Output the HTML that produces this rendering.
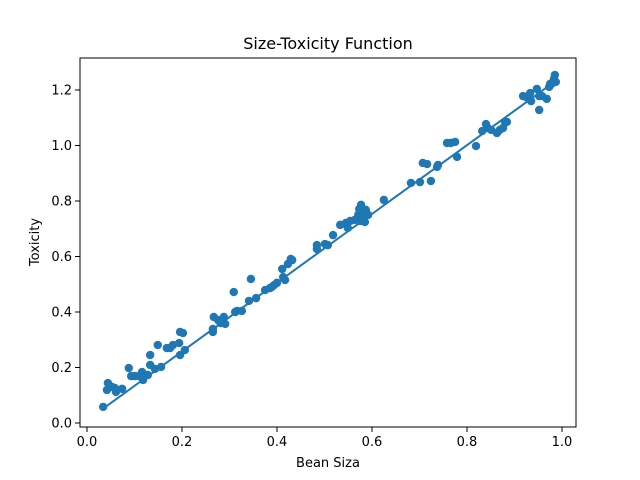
<!DOCTYPE html>
<html><head><meta charset="utf-8"><style>
body{margin:0;background:#fff}
svg{display:block;font-family:"DejaVu Sans","Liberation Sans",sans-serif}
</style></head><body>
<svg id="chart" width="640" height="480">
<rect width="640" height="480" fill="#fff"/>
<text x="328" y="49" font-size="16" text-anchor="middle">Size-Toxicity Function</text>
<g id="marks"></g>
<g id="axes"></g>
<text x="328" y="467" font-size="13" text-anchor="middle">Bean Siza</text>
<text transform="translate(39,242) rotate(-90)" font-size="13" text-anchor="middle">Toxicity</text>
</svg>
<script>
const xVals=[0.034,0.042,0.044,0.053,0.059,0.061,0.074,0.088,0.093,0.101,0.109,0.116,0.118,0.128,0.133,0.133,0.143,0.149,0.156,0.168,0.175,0.181,0.194,0.196,0.196,0.202,0.206,0.265,0.265,0.267,0.276,0.278,0.284,0.288,0.291,0.282,0.309,0.312,0.316,0.326,0.341,0.345,0.356,0.375,0.385,0.389,0.394,0.400,0.411,0.413,0.417,0.423,0.429,0.432,0.484,0.484,0.501,0.507,0.518,0.533,0.545,0.549,0.554,0.564,0.571,0.573,0.575,0.577,0.579,0.581,0.583,0.585,0.587,0.592,0.625,0.682,0.701,0.707,0.716,0.724,0.737,0.739,0.758,0.766,0.775,0.779,0.819,0.832,0.840,0.844,0.851,0.863,0.869,0.876,0.880,0.884,0.918,0.924,0.928,0.935,0.933,0.947,0.952,0.952,0.958,0.968,0.973,0.975,0.983,0.985,0.987,0.981,0.978];
const yVals=[0.058,0.119,0.144,0.130,0.126,0.112,0.123,0.198,0.169,0.169,0.169,0.184,0.155,0.173,0.209,0.245,0.195,0.281,0.202,0.270,0.270,0.281,0.288,0.328,0.245,0.324,0.263,0.328,0.339,0.382,0.371,0.368,0.364,0.382,0.357,0.360,0.472,0.400,0.404,0.404,0.440,0.519,0.450,0.479,0.486,0.490,0.497,0.505,0.555,0.526,0.515,0.573,0.591,0.587,0.641,0.627,0.645,0.641,0.677,0.714,0.721,0.703,0.728,0.732,0.750,0.771,0.728,0.786,0.750,0.739,0.760,0.724,0.768,0.750,0.804,0.865,0.868,0.937,0.933,0.872,0.923,0.930,1.009,1.009,1.013,0.959,0.998,1.052,1.077,1.063,1.056,1.045,1.056,1.063,1.085,1.085,1.178,1.175,1.171,1.160,1.189,1.204,1.128,1.178,1.178,1.168,1.211,1.222,1.240,1.254,1.229,1.229,1.222];
const lineX=[0.034,0.983];
const lineY=[0.052,1.228];
const xTicks=[0.0,0.2,0.4,0.6,0.8,1.0];
const xTickLabels=["0.0","0.2","0.4","0.6","0.8","1.0"];
const yTicks=[0.0,0.2,0.4,0.6,0.8,1.0,1.2];
const yTickLabels=["0.0","0.2","0.4","0.6","0.8","1.0","1.2"];
const L=80,R=576,T=58,B=427;
const sx=v=>87+475*v;
const sy=v=>423-277.5*v;
const NS="http://www.w3.org/2000/svg";
const marks=document.getElementById('marks'),axes=document.getElementById('axes');
function mk(tag,attrs,parent){const e=document.createElementNS(NS,tag);for(const k in attrs)e.setAttribute(k,attrs[k]);parent.appendChild(e);return e;}
for(let i=0;i<xVals.length;i++){
 const c=mk('circle',{cx:sx(xVals[i]),cy:sy(yVals[i]),r:4.2,fill:'#1f77b4'},marks);
 
 
}
const ln=mk('line',{x1:sx(lineX[0]),y1:sy(lineY[0]),x2:sx(lineX[1]),y2:sy(lineY[1]),stroke:'#1f77b4','stroke-width':2},marks);


const fr=mk('rect',{x:L,y:T,width:R-L,height:B-T,fill:'none',stroke:'#000','stroke-width':1},axes);


xTicks.forEach((v,i)=>{
 mk('line',{x1:sx(v),y1:B,x2:sx(v),y2:B+5,stroke:'#000'},axes);
 const t=mk('text',{x:sx(v),y:B+19,'font-size':13,'text-anchor':'middle'},axes);
 t.textContent=xTickLabels[i];
 
 
});
yTicks.forEach((v,i)=>{
 mk('line',{x1:L-5,y1:sy(v),x2:L,y2:sy(v),stroke:'#000'},axes);
 const t=mk('text',{x:L-8,y:sy(v)+4.5,'font-size':13,'text-anchor':'end'},axes);
 t.textContent=yTickLabels[i];
 
 
});
</script>
</body></html>
